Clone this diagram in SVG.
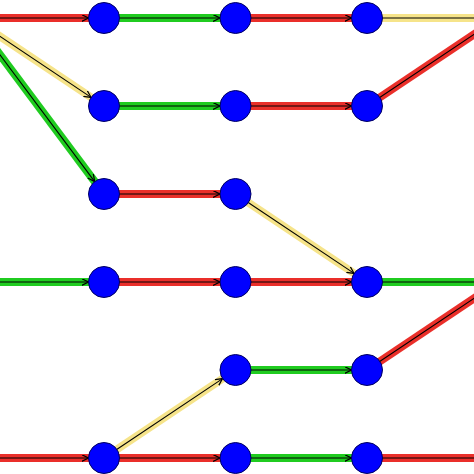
<svg xmlns="http://www.w3.org/2000/svg" width="474" height="474" viewBox="0 0 474 474">
<defs>
<marker id="ah" markerUnits="userSpaceOnUse" markerWidth="10" markerHeight="10" refX="7" refY="3.5" orient="auto">
<path d="M0,0 L7,3.5 L0,7" fill="none" stroke="#000" stroke-width="1.2"/>
</marker>
</defs>
<style>
.r{stroke:#ea2f2a;stroke-width:8;fill:none}
.g{stroke:#20cc20;stroke-width:8;fill:none}
.y{stroke:#f6e48a;stroke-width:8;fill:none}
.k{stroke:#000;stroke-width:1.1;fill:none}
.a{marker-end:url(#ah)}
.n{fill:#0000ff;stroke:#000060;stroke-width:1}
</style>
<rect width="474" height="474" fill="#fff"/>
<g id="connectors">
<line class="r" x1="-27.5" y1="18" x2="104" y2="18"/><line class="k a" x1="-27.5" y1="18" x2="88.5" y2="18"/>
<line class="g" x1="104" y1="18" x2="235.5" y2="18"/><line class="k a" x1="104" y1="18" x2="220" y2="18"/>
<line class="r" x1="235.5" y1="18" x2="367" y2="18"/><line class="k a" x1="235.5" y1="18" x2="351.5" y2="18"/>
<line class="y" x1="367" y1="18" x2="498.5" y2="18"/><line class="k" x1="367" y1="18" x2="498.5" y2="18"/>
<line class="y" x1="-27.5" y1="18" x2="104" y2="106"/><line class="k a" x1="-27.5" y1="18" x2="91.1" y2="97.4"/>
<line class="g" x1="104" y1="106" x2="235.5" y2="106"/><line class="k a" x1="104" y1="106" x2="220" y2="106"/>
<line class="r" x1="235.5" y1="106" x2="367" y2="106"/><line class="k a" x1="235.5" y1="106" x2="351.5" y2="106"/>
<line class="r" x1="367" y1="106" x2="498.5" y2="18"/><line class="k" x1="367" y1="106" x2="498.5" y2="18"/>
<line class="g" x1="-27.5" y1="18" x2="104" y2="194"/><line class="k a" x1="-27.5" y1="18" x2="94.7" y2="181.6"/>
<line class="r" x1="104" y1="194" x2="235.5" y2="194"/><line class="k a" x1="104" y1="194" x2="220" y2="194"/>
<line class="y" x1="235.5" y1="194" x2="367" y2="282"/><line class="k a" x1="235.5" y1="194" x2="354.1" y2="273.4"/>
<line class="g" x1="-27.5" y1="282" x2="104" y2="282"/><line class="k a" x1="-27.5" y1="282" x2="88.5" y2="282"/>
<line class="r" x1="104" y1="282" x2="235.5" y2="282"/><line class="k a" x1="104" y1="282" x2="220" y2="282"/>
<line class="r" x1="235.5" y1="282" x2="367" y2="282"/><line class="k a" x1="235.5" y1="282" x2="351.5" y2="282"/>
<line class="g" x1="367" y1="282" x2="498.5" y2="282"/><line class="k" x1="367" y1="282" x2="498.5" y2="282"/>
<line class="r" x1="367" y1="370" x2="498.5" y2="282"/><line class="k" x1="367" y1="370" x2="498.5" y2="282"/>
<line class="g" x1="235.5" y1="370" x2="367" y2="370"/><line class="k a" x1="235.5" y1="370" x2="351.5" y2="370"/>
<line class="y" x1="104" y1="458" x2="235.5" y2="370"/><line class="k a" x1="104" y1="458" x2="222.6" y2="378.6"/>
<line class="r" x1="-27.5" y1="458" x2="104" y2="458"/><line class="k a" x1="-27.5" y1="458" x2="88.5" y2="458"/>
<line class="r" x1="104" y1="458" x2="235.5" y2="458"/><line class="k a" x1="104" y1="458" x2="220" y2="458"/>
<line class="g" x1="235.5" y1="458" x2="367" y2="458"/><line class="k a" x1="235.5" y1="458" x2="351.5" y2="458"/>
<line class="r" x1="367" y1="458" x2="498.5" y2="458"/><line class="k" x1="367" y1="458" x2="498.5" y2="458"/>
</g>
<g id="n11"><circle class="n" cx="104" cy="18" r="15.5"/></g>
<g id="n12"><circle class="n" cx="235.5" cy="18" r="15.5"/></g>
<g id="n13"><circle class="n" cx="367" cy="18" r="15.5"/></g>
<g id="n21"><circle class="n" cx="104" cy="106" r="15.5"/></g>
<g id="n22"><circle class="n" cx="235.5" cy="106" r="15.5"/></g>
<g id="n23"><circle class="n" cx="367" cy="106" r="15.5"/></g>
<g id="n31"><circle class="n" cx="104" cy="194" r="15.5"/></g>
<g id="n32"><circle class="n" cx="235.5" cy="194" r="15.5"/></g>
<g id="n41"><circle class="n" cx="104" cy="282" r="15.5"/></g>
<g id="n42"><circle class="n" cx="235.5" cy="282" r="15.5"/></g>
<g id="n43"><circle class="n" cx="367" cy="282" r="15.5"/></g>
<g id="n52"><circle class="n" cx="235.5" cy="370" r="15.5"/></g>
<g id="n53"><circle class="n" cx="367" cy="370" r="15.5"/></g>
<g id="n61"><circle class="n" cx="104" cy="458" r="15.5"/></g>
<g id="n62"><circle class="n" cx="235.5" cy="458" r="15.5"/></g>
<g id="n63"><circle class="n" cx="367" cy="458" r="15.5"/></g>
</svg>
